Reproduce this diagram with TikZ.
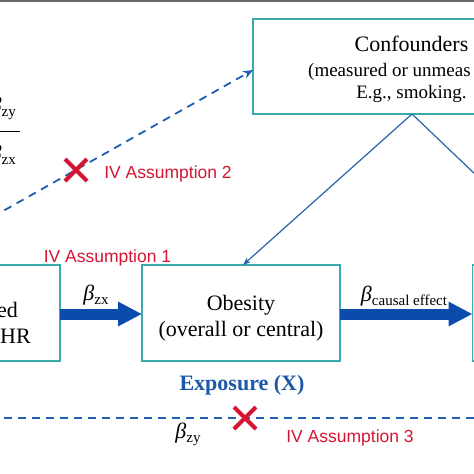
\documentclass[tikz,border=0pt]{standalone}
\usepackage{fontspec}
\setmainfont{Liberation Serif}
\newfontfamily\arialf{Liberation Sans}
\usetikzlibrary{arrows.meta}
\definecolor{boxteal}{RGB}{58,170,174}
\definecolor{thickblue}{RGB}{10,75,172}
\definecolor{lineblue}{RGB}{40,100,168}
\definecolor{dashblue}{RGB}{30,95,175}
\definecolor{ivred}{RGB}{212,22,52}
\definecolor{expblue}{RGB}{28,88,168}
\definecolor{topgray}{RGB}{105,105,105}
\definecolor{outfill}{RGB}{236,248,250}
\newcommand{\bsubs}[2]{{\itshape β}\raisebox{-0.45ex}{\fontsize{#2}{#2}\selectfont #1}}
\tikzset{
  boxline/.style={draw=boxteal, line width=1.4pt},
  serifbig/.style={font=\fontsize{22}{26}\selectfont},
  serifsmall/.style={font=\fontsize{19}{22}\selectfont},
  ivlabel/.style={text=ivred, font=\arialf\fontsize{17.5}{20}\selectfont, anchor=base, inner sep=0pt},
  thickarrow/.style={draw=thickblue, line width=11pt, -{Triangle[length=24pt,width=23pt]}},
  thinarrow/.style={draw=lineblue, line width=1.2pt},
  dashline/.style={draw=dashblue, line width=1.8pt, dash pattern=on 8pt off 6pt},
  redx/.style={draw=ivred, line width=4pt},
  txt/.style={inner sep=0pt, anchor=base}
}
\begin{document}
\begin{tikzpicture}[x=1pt,y=-1pt]
\useasboundingbox (0,0) rectangle (474,474);
\clip (0,0) rectangle (474,474);
\fill[white] (0,0) rectangle (474,474);
\fill[topgray] (0,0) rectangle (474,2.2);

% boxes
\draw[boxline] (253,19) rectangle (580,114);
\node[txt, serifbig] (conf) at (411.5,51) {Confounders};
\node[txt, serifsmall, anchor=base west] (conf2) at (308,76) {(measured or unmeas};
\node[txt, serifsmall] (conf3) at (411.5,98) {E.g., smoking.};
\coordinate (confbot) at (412,114);
\coordinate (confleft) at (253,70);

\draw[boxline] (-100,265) rectangle (60,361);
\node[txt, serifbig, anchor=base east] (ins1) at (18,317) {ed};
\node[txt, serifbig, anchor=base east] (ins2) at (31,343) {HR};
\coordinate (insright) at (60,314);

\draw[boxline] (142,265) rectangle (340,361);
\node[txt, serifbig] (ob1) at (241,310) {Obesity};
\node[txt, serifbig] (ob2) at (241,336) {(overall or central)};
\coordinate (obleft) at (142,314);
\coordinate (obright) at (340,314);
\coordinate (obtop) at (243,265);

\draw[boxline, fill=outfill] (472.5,265) rectangle (600,361);
\coordinate (outleft) at (472.5,314);

% thick arrows
\draw[thickarrow] (insright) -- (obleft);
\draw[thickarrow] (obright) -- (outleft);
\node[txt, font=\fontsize{22}{22}\selectfont] (bzx) at (96,300) {\bsubs{zx}{15}};
\node[txt, font=\fontsize{22}{22}\selectfont] (bce) at (404,301) {\bsubs{causal effect}{15}};

% confounder lines
\coordinate (offright) at (520,217);
\draw[thinarrow, -{Stealth[length=8pt,width=6pt]}] (confbot) -- (obtop);
\draw[thinarrow] (confbot) -- (offright);

% exposure label
\node[txt, font=\bfseries\fontsize{22}{22}\selectfont, text=expblue] (expo) at (242,390) {Exposure (X)};

% IV assumption 1
\node[ivlabel] (iv1) at (107.5,262) {IV Assumption 1};

% dashed arrow to confounders
\coordinate (offleft) at (-20,224);
\draw[dashline, -{Stealth[length=10pt,width=8pt]}] (offleft) -- (confleft);
\draw[redx] (65,159) -- (87,181) (65,181) -- (87,159);
\node[ivlabel] (iv2) at (168,178) {IV Assumption 2};

% bottom dashed line
\coordinate (bl) at (-10,418);
\coordinate (br) at (484,418);
\draw[dashline] (bl) -- (br);
\draw[redx] (234,407) -- (256,429) (234,429) -- (256,407);
\node[ivlabel] (iv3) at (350,442) {IV Assumption 3};
\node[txt, font=\fontsize{22}{22}\selectfont] (bzy) at (188,438) {\bsubs{zy}{15}};

% ratio at left
\draw[black, line width=1pt] (-10,131) -- (20,131);
\node[txt, anchor=base east, font=\fontsize{22}{22}\selectfont] (num) at (16,112) {\bsubs{zy}{15}};
\node[txt, anchor=base east, font=\fontsize{22}{22}\selectfont] (den) at (16,160) {\bsubs{zx}{15}};
\end{tikzpicture}
\end{document}
